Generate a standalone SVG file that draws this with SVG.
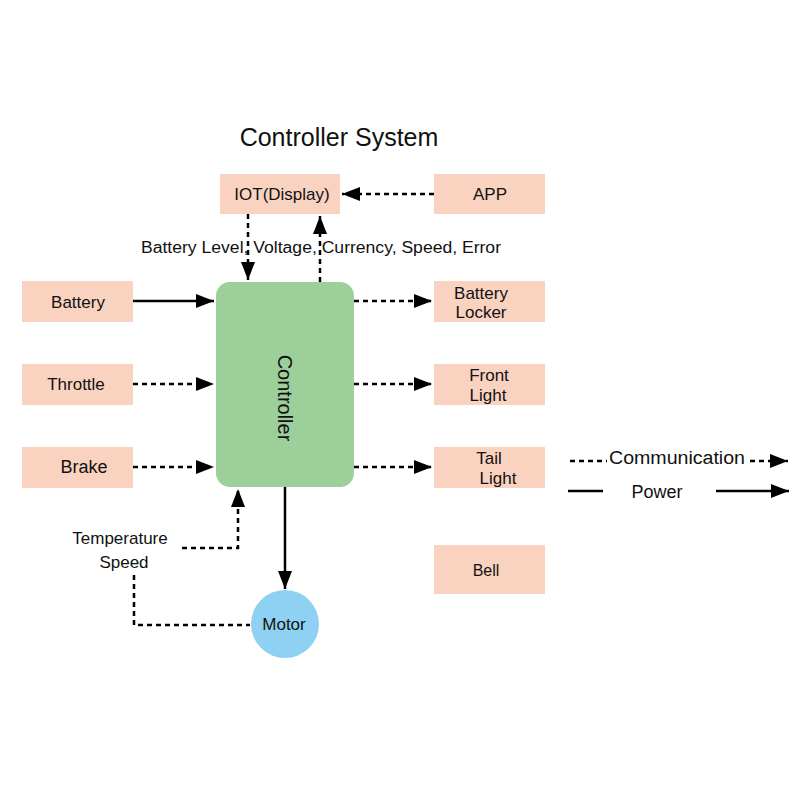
<svg xmlns="http://www.w3.org/2000/svg" width="800" height="800" viewBox="0 0 800 800">
<style>
.b{fill:#f9d3c0}
text{font-family:"Liberation Sans",Arial,sans-serif;font-size:17px;fill:#111;text-anchor:middle}
.s{stroke:#000;stroke-width:2.5;fill:none}
.d{stroke:#000;stroke-width:2.5;fill:none;stroke-dasharray:5,4}
</style>
<defs>
<marker id="A" viewBox="0 0 10 10" refX="10" refY="5" markerWidth="18" markerHeight="14" markerUnits="userSpaceOnUse" orient="auto" preserveAspectRatio="none"><path d="M0,0L10,5L0,10z"/></marker>
</defs>
<rect width="800" height="800" fill="#fff"/>
<text x="339" y="146" style="font-size:25px">Controller System</text>
<g id="iot"><rect class="b" x="220" y="174" width="120" height="40"/><text x="282" y="200">IOT(Display)</text></g>
<g id="app"><rect class="b" x="434" y="174" width="111" height="40"/><text x="490" y="200">APP</text></g>
<g id="battery"><rect class="b" x="22" y="281" width="111" height="41"/><text x="78" y="308">Battery</text></g>
<g id="throttle"><rect class="b" x="22" y="364" width="111" height="41"/><text x="76" y="390">Throttle</text></g>
<g id="brake"><rect class="b" x="22" y="447" width="111" height="41"/><text x="84" y="473" style="font-size:18px">Brake</text></g>
<g id="controller"><rect x="216" y="282" width="138" height="205" rx="14" fill="#9ccf9a"/><text x="285" y="398" transform="rotate(90 285 398)" style="font-size:20px" dy="7">Controller</text></g>
<g id="locker"><rect class="b" x="434" y="281" width="111" height="41"/><text x="481" y="299">Battery</text><text x="481" y="318">Locker</text></g>
<g id="front"><rect class="b" x="434" y="364" width="111" height="41"/><text x="489" y="381">Front</text><text x="488" y="401">Light</text></g>
<g id="tail"><rect class="b" x="434" y="447" width="111" height="41"/><text x="489" y="464">Tail</text><text x="498" y="484">Light</text></g>
<g id="bell"><rect class="b" x="434" y="545" width="111" height="49"/><text x="486" y="576" style="font-size:16px">Bell</text></g>
<g id="motor"><circle cx="285" cy="624" r="34" fill="#8fd1f3"/><text x="284" y="630">Motor</text></g>
<g id="connectors">
<path class="d" d="M434,194H342" marker-end="url(#A)"/>
<path class="d" d="M248,214V280" marker-end="url(#A)"/>
<path class="d" d="M320,282V216" marker-end="url(#A)"/>
<path class="s" d="M133,301H214" marker-end="url(#A)"/>
<path class="d" d="M133,384H214" marker-end="url(#A)"/>
<path class="d" d="M133,467H214" marker-end="url(#A)"/>
<path class="d" d="M354,301H432" marker-end="url(#A)"/>
<path class="d" d="M354,384H432" marker-end="url(#A)"/>
<path class="d" d="M354,467H432" marker-end="url(#A)"/>
<path class="s" d="M285,487V589" marker-end="url(#A)"/>
<path class="d" d="M182,548H238V489" marker-end="url(#A)"/>
<path class="d" d="M134,575V625H250"/>
</g>
<text x="321" y="253" style="font-size:16px" textLength="360" lengthAdjust="spacingAndGlyphs">Battery Level, Voltage, Currency, Speed, Error</text>
<text x="120" y="544">Temperature</text>
<text x="124" y="568">Speed</text>
<g id="legend">
<path class="d" d="M570,461H607"/>
<text x="677" y="464" style="font-size:18px" textLength="136" lengthAdjust="spacingAndGlyphs">Communication</text>
<path class="d" d="M750,461H788" marker-end="url(#A)"/>
<path class="s" d="M568,491H603"/>
<text x="657" y="498" style="font-size:18px">Power</text>
<path class="s" d="M716,491H789" marker-end="url(#A)"/>
</g>
</svg>
